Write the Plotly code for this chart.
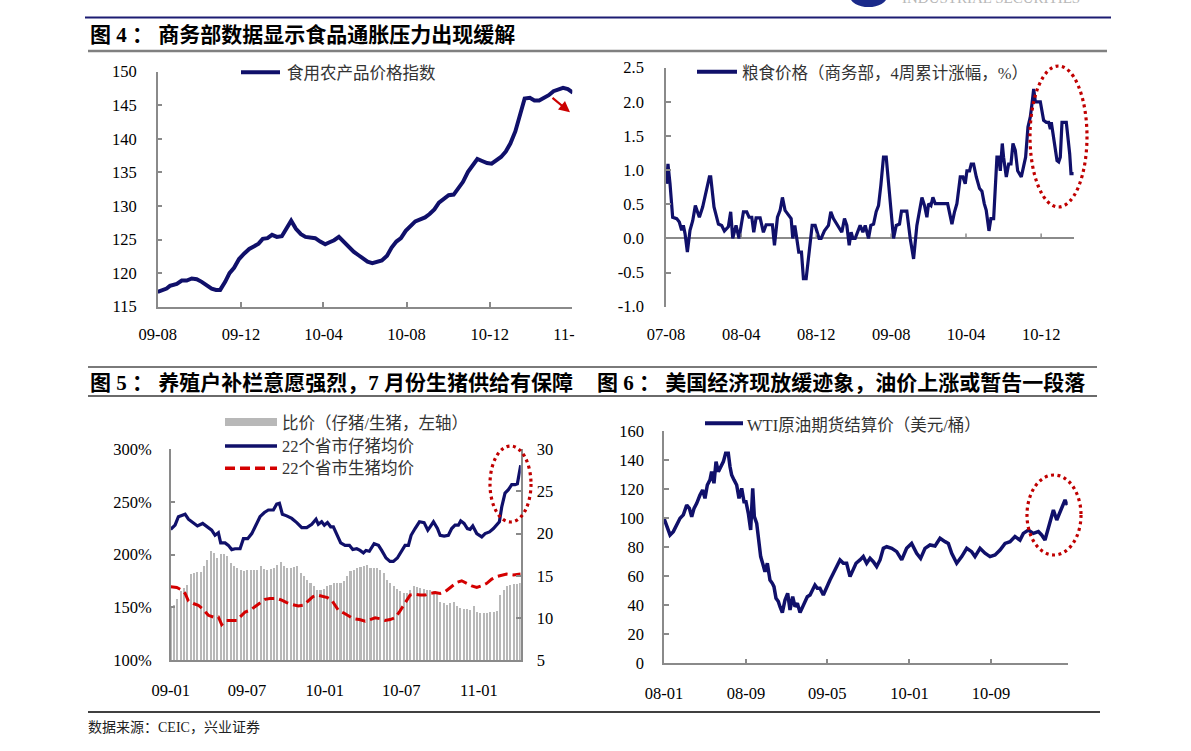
import pandas as pd
import plotly.graph_objects as go

W, H = 1191, 751

# ---------------- data ----------------
# Chart 1: food agricultural product price index (months after 2009-08)
food_months = [0.00, 0.23, 0.43, 0.59, 0.92, 1.16, 1.40, 1.64, 1.88, 2.12, 2.36, 2.60, 2.81, 3.01,
               3.25, 3.46, 3.68, 3.92, 4.16, 4.41, 4.65, 4.86, 5.06, 5.29, 5.51, 5.74, 5.98, 6.22,
               6.43, 6.66, 6.90, 7.12, 7.35, 7.59, 7.83, 8.07, 8.28, 8.50, 8.73, 8.95, 9.20, 9.44,
               9.66, 9.89, 10.11, 10.34, 10.56, 10.80, 11.05, 11.27, 11.50, 11.72, 11.95, 12.17,
               12.41, 12.65, 12.88, 13.10, 13.33, 13.55, 13.78, 14.02, 14.26, 14.49, 14.71, 14.95,
               15.18, 15.40, 15.63, 15.87, 16.09, 16.32, 16.54, 16.77, 16.99, 17.23, 17.46, 17.68,
               17.93, 18.15, 18.38, 18.60, 18.84, 19.07, 19.29, 19.53, 19.76, 20.00]
food_index = [117.2, 117.4, 117.7, 118.1, 118.4, 118.9, 118.9, 119.2, 119.1, 118.7, 118.2, 117.7, 117.5, 117.5,
              118.7, 120.0, 120.8, 122.1, 122.9, 123.6, 124.0, 124.4, 125.1, 125.2, 125.7, 125.4, 125.5, 126.7,
              127.8, 126.6, 125.8, 125.4, 125.3, 125.2, 124.7, 124.3, 124.6, 124.9, 125.4, 124.7, 123.9, 123.2,
              122.7, 122.1, 121.7, 121.5, 121.7, 121.9, 122.6, 123.8, 124.7, 125.2, 126.3, 126.9,
              127.7, 128.0, 128.3, 128.8, 129.5, 130.5, 131.0, 131.6, 131.7, 132.6, 133.6, 135.1,
              136.1, 137.0, 136.7, 136.4, 136.3, 136.8, 137.3, 138.1, 139.3, 141.1, 143.5, 146.0,
              146.1, 145.7, 145.7, 146.1, 146.5, 147.1, 147.3, 147.6, 147.4, 146.9]
food_name = "食用农产品价格指数"
food_ticks = ["2009-08-01", "2009-12-01", "2010-04-01", "2010-08-01", "2010-12-01", "2011-04-01"]
food_ticktext = ["09-08", "09-12", "10-04", "10-08", "10-12", "11-04"]
food_yticks = [115, 120, 125, 130, 135, 140, 145, 150]

# Chart 2: grain price, 4-week cumulative change % (months after 2007-08)
grain_months = [0.07, 0.21, 0.43, 0.71, 1.14, 1.42, 1.67, 1.85, 2.03, 2.28, 2.56, 2.85, 3.13, 3.56, 3.91,
                4.27, 4.63, 4.77, 5.12, 5.59, 5.94, 6.23, 6.65, 6.90, 7.12, 7.47, 7.79, 8.26, 8.61, 8.86,
                9.15, 9.36, 9.61, 10.04, 10.39, 10.68, 11.35, 11.57, 11.89, 12.17, 12.42, 12.70, 13.06,
                13.35, 13.52, 13.74, 13.95, 14.16, 14.45, 14.66, 14.95, 15.23, 15.59, 15.91, 16.33, 16.55,
                16.90, 17.33, 17.58, 17.86, 18.33, 18.75, 19.04, 19.29, 19.54, 19.75, 19.93, 20.18, 20.71,
                21.00, 21.25, 21.60, 21.85, 22.14, 22.42, 22.67, 22.92, 23.20, 23.49, 23.74, 24.02, 24.27,
                24.56, 24.91, 25.12, 25.69, 26.05, 26.41, 26.76, 27.05, 27.30, 27.58, 27.83, 28.01, 28.26,
                28.47, 28.72, 30.04, 30.50, 30.78, 31.03, 31.39, 31.67, 31.92, 32.10, 32.38, 32.56, 32.81,
                33.10, 33.45, 33.70, 33.95, 34.16, 34.45, 34.66, 34.95, 35.30, 35.48, 35.66, 35.87, 36.01,
                36.30, 36.55, 36.80, 37.01, 37.26, 37.51, 37.90, 38.15, 38.36, 38.61, 38.86, 39.04, 39.22,
                39.40, 39.93, 40.28, 40.57, 40.82, 41.00, 41.10, 41.28, 41.46, 41.71, 41.89, 42.06, 42.24,
                42.70, 43.06, 43.20, 43.49]
grain_change = [0.80, 1.09, 0.80, 0.31, 0.29, 0.24, 0.12, 0.19, 0.07, -0.20, 0.12, 0.26, 0.48, 0.31, 0.46,
                0.68, 0.90, 0.90, 0.46, 0.21, 0.19, 0.11, 0.17, 0.39, 0.00, 0.19, 0.00, 0.39, 0.39, 0.31,
                0.31, 0.09, 0.30, 0.30, 0.09, 0.20, 0.20, -0.10, 0.31, 0.41, 0.60, 0.41, 0.35,
                0.29, 0.00, 0.19, 0.00, -0.20, -0.20, -0.59, -0.59, -0.22, 0.19, 0.19, 0.00, 0.00,
                0.11, 0.19, 0.39, 0.29, 0.19, 0.09, 0.29, 0.19, -0.10, 0.09, 0.00, 0.00, 0.19,
                0.09, 0.19, 0.00, 0.19, 0.21, 0.39, 0.48, 0.78, 1.19, 1.19, 0.78, 0.39, 0.00,
                0.19, 0.21, 0.40, 0.40, 0.00, -0.30, 0.19, 0.39, 0.60, 0.48, 0.31, 0.51, 0.48,
                0.60, 0.51, 0.51, 0.21, 0.39, 0.51, 0.90, 0.90, 0.80, 0.99, 0.99, 1.09, 1.09,
                0.90, 0.73, 0.69, 0.51, 0.41, 0.11, 0.29, 0.29, 1.19, 1.19, 0.99, 1.39, 1.19,
                0.90, 1.09, 1.09, 1.39, 1.29, 0.99, 0.90, 1.09, 1.19, 1.63, 1.78, 1.97, 2.19,
                2.00, 2.00, 1.73, 1.70, 1.70, 1.60, 1.70, 1.53, 1.34, 1.14, 1.12, 1.19, 1.70,
                1.70, 1.24, 0.95, 0.95]
grain_name = "粮食价格（商务部，4周累计涨幅，%）"
grain_ticks = ["2007-08-01", "2008-04-01", "2008-12-01", "2009-08-01", "2010-04-01", "2010-12-01"]
grain_ticktext = ["07-08", "08-04", "08-12", "09-08", "10-04", "10-12"]
grain_yticks = [-1.0, -0.5, 0.0, 0.5, 1.0, 1.5, 2.0, 2.5]
grain_yticktext = ["-1.0", "-0.5", "0.0", "0.5", "1.0", "1.5", "2.0", "2.5"]

# Chart 3: piglet / hog (weekly ratio bars; prices with months after 2009-01)
ratio_values = [151, 152, 158, 165, 168, 171, 181, 182, 183, 183, 189, 195, 203, 201, 197, 200, 200, 198,
                192, 189, 187, 185, 184, 185, 185, 185, 185, 189, 186, 185, 186, 187, 190, 193, 189, 187,
                187, 188, 189, 182, 179, 176, 173, 170, 166, 166, 167, 170, 171, 173, 173, 173, 175, 179,
                184, 185, 187, 188, 189, 190, 187, 187, 187, 185, 182, 176, 173, 170, 167, 165, 163, 163,
                166, 170, 169, 168, 167, 166, 166, 165, 162, 155, 154, 152, 154, 155, 151, 149, 148, 148,
                147, 151, 145, 144, 144, 144, 145, 145, 146, 161, 166, 170, 171, 172, 172, 173]
piglet_months = [0.00, 0.34, 0.60, 0.86, 1.12, 1.38, 1.76, 2.08, 2.49, 2.85, 3.19, 3.45, 3.71, 3.89, 4.23,
                 4.49, 4.75, 5.01, 5.40, 5.66, 5.99, 6.31, 6.64, 6.95, 7.29, 7.60, 7.99, 8.25, 8.46, 8.69,
                 9.03, 9.42, 9.81, 10.20, 10.59, 10.98, 11.31, 11.49, 11.75, 11.96, 12.20, 12.45, 12.66,
                 12.92, 13.23, 13.57, 13.91, 14.17, 14.48, 14.74, 15.00, 15.20, 15.46, 15.83, 16.17, 16.42,
                 16.76, 17.07, 17.33, 17.64, 17.98, 18.24, 18.50, 18.71, 19.02, 19.36, 19.72, 20.01, 20.19,
                 20.45, 20.76, 20.97, 21.28, 21.61, 21.87, 22.13, 22.39, 22.57, 22.83, 23.09, 23.30, 23.51,
                 23.82, 24.21, 24.47, 24.81, 25.12, 25.38, 25.58, 25.77, 26.02, 26.28, 26.54, 26.80, 26.98,
                 27.24]
piglet_price = [20.5, 21.0, 22.0, 22.2, 22.3, 21.7, 21.3, 20.9, 21.2, 20.8, 20.4, 19.8, 20.1, 18.9, 18.9,
                18.6, 18.1, 18.2, 18.2, 19.4, 19.4, 20.0, 21.0, 22.0, 22.5, 22.8, 22.8, 23.5, 23.6, 22.3,
                22.1, 21.8, 21.3, 20.7, 20.7, 21.1, 21.7, 21.1, 21.4, 21.0, 21.3, 20.8, 20.8,
                20.0, 18.9, 18.6, 18.6, 18.1, 18.2, 18.0, 17.7, 18.0, 17.9, 18.8, 18.6, 18.0,
                17.1, 16.7, 16.7, 17.1, 17.9, 18.6, 18.6, 19.8, 20.6, 21.4, 21.3, 20.4, 20.8,
                21.4, 20.6, 19.8, 19.7, 19.8, 20.6, 21.0, 21.0, 21.5, 21.2, 20.6, 20.5, 20.9,
                20.0, 19.6, 20.0, 20.2, 20.6, 21.1, 21.4, 23.2, 24.8, 25.2, 25.8, 25.8, 25.9,
                28.1]
hog_months = [0.00, 0.47, 0.86, 1.12, 1.38, 1.76, 2.15, 2.54, 2.93, 3.32, 3.71, 3.97, 4.31, 4.75, 5.14,
              5.40, 5.79, 6.18, 6.56, 6.95, 7.34, 7.73, 8.25, 8.64, 9.03, 9.42, 9.94, 10.33, 10.72, 11.05,
              11.42, 11.75, 12.20, 12.53, 12.79, 13.05, 13.44, 13.83, 14.22, 14.69, 15.13, 15.52, 15.91,
              16.29, 16.68, 17.07, 17.46, 17.80, 18.11, 18.37, 18.63, 19.02, 19.41, 19.80, 20.19, 20.58,
              20.97, 21.35, 21.61, 21.95, 22.26, 22.65, 23.04, 23.43, 23.82, 24.21, 24.60, 24.99, 25.38,
              25.77, 26.15, 26.67, 27.24]
hog_price = [13.7, 13.6, 13.3, 12.9, 12.0, 11.7, 11.5, 11.0, 10.3, 10.1, 10.1, 9.2, 9.7, 9.7, 9.7,
             10.1, 10.7, 10.9, 11.3, 11.7, 12.2, 12.3, 12.3, 12.1, 11.8, 11.6, 11.4, 11.5, 12.0, 12.5,
             12.7, 12.6, 12.4, 12.1, 11.5, 10.9, 10.6, 10.2, 9.9, 9.8, 9.6, 9.8, 10.0,
             9.9, 9.7, 9.8, 10.0, 10.7, 11.5, 12.2, 12.7, 12.8, 12.7, 12.7, 12.9, 13.0,
             12.9, 13.1, 13.4, 13.8, 14.2, 14.4, 14.1, 13.8, 13.6, 13.8, 14.1, 14.6, 14.9,
             15.1, 15.2, 15.1, 15.2]
ratio_name = "比价（仔猪/生猪，左轴）"
piglet_name = "22个省市仔猪均价"
hog_name = "22个省市生猪均价"
pig_ticks = ["2009-01-01", "2009-07-01", "2010-01-01", "2010-07-01", "2011-01-01"]
pig_ticktext = ["09-01", "09-07", "10-01", "10-07", "11-01"]
pig_lticks = [100, 150, 200, 250, 300]
pig_lticktext = ["100%", "150%", "200%", "250%", "300%"]
pig_rticks = [5, 10, 15, 20, 25, 30]

# Chart 4: WTI crude futures settlement (months after 2008-01)
wti_months = [0.00, 0.26, 0.59, 0.91, 1.24, 1.57, 1.89, 2.22, 2.48, 2.71, 2.94, 3.20, 3.52, 3.78, 4.01,
              4.24, 4.50, 4.66, 4.89, 5.09, 5.32, 5.54, 5.81, 6.03, 6.29, 6.46, 6.62, 6.85, 7.11, 7.34,
              7.60, 7.83, 8.02, 8.25, 8.48, 8.68, 8.84, 9.07, 9.26, 9.46, 9.65, 9.88, 10.11, 10.37, 10.60,
              10.76, 10.96, 11.19, 11.35, 11.58, 11.84, 12.10, 12.33, 12.59, 12.82, 13.05, 13.31, 13.57,
              13.80, 14.02, 14.29, 14.55, 14.77, 15.00, 15.26, 15.59, 15.92, 16.24, 16.57, 16.89, 17.22,
              17.55, 17.87, 18.20, 18.46, 18.79, 19.18, 19.50, 19.83, 20.16, 20.48, 20.81, 21.14, 21.46,
              21.79, 22.28, 22.77, 23.26, 23.74, 24.23, 24.72, 25.11, 25.54, 26.03, 26.52, 27.01, 27.50,
              27.82, 28.15, 28.64, 29.13, 29.62, 30.10, 30.43, 30.92, 31.41, 31.90, 32.39, 32.88, 33.37,
              33.86, 34.34, 34.83, 35.16, 35.65, 36.14, 36.63, 36.95, 37.28, 37.77, 38.10, 38.43, 38.75,
              39.08, 39.24, 39.47]
wti_price = [99.9, 94.1, 88.4, 90.7, 95.3, 99.9, 102.2, 109.0, 106.7, 101.0, 106.7, 110.2, 115.9, 119.4, 113.6,
             122.8, 126.3, 132.0, 124.0, 138.9, 132.0, 135.4, 138.9, 144.6, 144.6, 135.4, 129.7, 126.3, 122.8, 113.6,
             120.5, 111.3, 111.3, 103.3, 91.8, 120.5, 101.0, 96.4, 82.6, 73.5, 68.9, 63.1, 68.9, 57.4, 55.1,
             52.8, 44.8, 42.5, 39.0, 34.9, 43.6, 48.2, 36.7, 45.9, 39.0, 41.3, 34.9, 39.0,
             42.5, 45.9, 47.1, 50.5, 53.9, 51.7, 51.7, 47.1, 52.8, 57.4, 62.0, 66.6, 71.2,
             68.9, 68.9, 59.7, 64.3, 68.9, 71.2, 73.5, 68.9, 72.3, 70.0, 66.6, 71.2, 79.2,
             80.3, 79.2, 76.9, 71.2, 79.2, 82.6, 75.8, 72.3, 79.2, 81.5, 80.8, 86.1, 83.8,
             82.6, 75.8, 68.9, 73.5, 79.2, 76.9, 73.5, 79.2, 75.8, 73.5, 74.6, 78.0, 82.6,
             83.8, 87.3, 84.9, 89.5, 91.8, 89.5, 90.7, 88.4, 84.9, 98.7, 105.6, 98.7, 104.4,
             109.0, 112.5, 109.0]
wti_name = "WTI原油期货结算价（美元/桶）"
wti_ticks = ["2008-01-01", "2008-09-01", "2009-05-01", "2010-01-01", "2010-09-01"]
wti_ticktext = ["08-01", "08-09", "09-05", "10-01", "10-09"]
wti_yticks = [0, 20, 40, 60, 80, 100, 120, 140, 160]

titles = ["图 4 ： 商务部数据显示食品通胀压力出现缓解",
          "图 5 ： 养殖户补栏意愿强烈，7 月份生猪供给有保障",
          "图 6 ： 美国经济现放缓迹象，油价上涨或暂告一段落"]
source_text = "数据来源：CEIC，兴业证券"
header_text = "INDUSTRIAL SECURITIES"

# ---------------- helpers ----------------
NAVY = "#10106a"
GRAY = "#8a8a8a"
RED = "#d40000"
DOTRED = "#c00000"
TICKFONT = dict(family="Liberation Serif", size=16.5, color="black")
LEGFONT = dict(family="Liberation Serif, Noto Sans CJK SC", size=16.5, color="#333333")


def mdates(base, months):
    b = pd.Timestamp(base)
    return [b + pd.Timedelta(days=m * 30.4375) for m in months]


def px(x):
    return x / W


def py(y):
    return 1 - y / H


fig = go.Figure()

# Chart 1
fig.add_trace(go.Scatter(x=mdates("2009-08-01", food_months), y=food_index, mode="lines", name=food_name,
                         line=dict(color=NAVY, width=4), xaxis="x", yaxis="y", showlegend=False))
# Chart 2
fig.add_trace(go.Scatter(x=mdates("2007-08-01", grain_months), y=grain_change, mode="lines", name=grain_name,
                         line=dict(color=NAVY, width=3.2), xaxis="x2", yaxis="y2", showlegend=False))
# Chart 3
pig_end = mdates("2009-01-01", [27.2])[0]
bar_x = pd.date_range(pd.Timestamp("2009-01-01"), pig_end, periods=len(ratio_values))
fig.add_trace(go.Bar(x=bar_x, y=ratio_values, name=ratio_name, marker=dict(color="#b8b8b8", line=dict(width=0)),
                     width=3.8 * 86400000, xaxis="x3", yaxis="y3", showlegend=False))
fig.add_trace(go.Scatter(x=mdates("2009-01-01", piglet_months), y=piglet_price, mode="lines", name=piglet_name,
                         line=dict(color=NAVY, width=3.2), xaxis="x3", yaxis="y5", showlegend=False))
fig.add_trace(go.Scatter(x=mdates("2009-01-01", hog_months), y=hog_price, mode="lines", name=hog_name,
                         line=dict(color=RED, width=3, dash="10px,5px"), xaxis="x3", yaxis="y5", showlegend=False))
# Chart 4
fig.add_trace(go.Scatter(x=mdates("2008-01-01", wti_months), y=wti_price, mode="lines", name=wti_name,
                         line=dict(color=NAVY, width=3.5), xaxis="x4", yaxis="y4", showlegend=False))

base_axis = dict(showline=True, linecolor=GRAY, linewidth=1.5, showgrid=False, zeroline=False,
                 ticks="inside", ticklen=5, tickcolor=GRAY, tickwidth=1.5, tickfont=TICKFONT,
                 automargin=False)

layout = dict(
    width=W, height=H, margin=dict(l=0, r=0, t=0, b=0, pad=0, autoexpand=False),
    paper_bgcolor="white", plot_bgcolor="white", showlegend=False, bargap=0,
    xaxis=dict(base_axis, type="date", domain=[px(157.7), px(572.3)], anchor="y",
               range=["2009-08-01", "2011-04-01"], tickvals=food_ticks, ticktext=food_ticktext,
               ticklabelstandoff=12),
    yaxis=dict(base_axis, domain=[py(306.7), py(71.7)], anchor="x", range=[115, 150],
               tickvals=food_yticks, ticklabelstandoff=16),
    xaxis2=dict(base_axis, type="date", domain=[px(666), px(1073.8)], anchor="y2", showline=False, ticks="",
                range=["2007-08-01", mdates("2007-08-01", [43.5])[0]], tickvals=grain_ticks,
                ticktext=grain_ticktext, ticklabelstandoff=16),
    yaxis2=dict(base_axis, domain=[py(306.7), py(67.7)], anchor="x2", range=[-1.0, 2.5],
                tickvals=grain_yticks, ticktext=grain_yticktext, ticklabelstandoff=17,
                zeroline=True, zerolinecolor=GRAY, zerolinewidth=1.5),
    xaxis3=dict(base_axis, type="date", domain=[px(170.7), px(520.7)], anchor="y3", ticks="",
                range=["2009-01-01", mdates("2009-01-01", [27.24])[0]], tickvals=pig_ticks,
                ticktext=pig_ticktext, ticklabelstandoff=14),
    yaxis3=dict(base_axis, domain=[py(660), py(449.3)], anchor="x3", range=[100, 300],
                tickvals=pig_lticks, ticktext=pig_lticktext, ticklabelstandoff=14),
    yaxis5=dict(base_axis, overlaying="y3", anchor="x3", side="right", range=[5, 30],
                tickvals=pig_rticks, ticklabelstandoff=11),
    xaxis4=dict(base_axis, type="date", domain=[px(664), px(1067.7)], anchor="y4",
                range=["2008-01-01", mdates("2008-01-01", [39.5])[0]], tickvals=wti_ticks,
                ticktext=wti_ticktext, ticklabelstandoff=14),
    yaxis4=dict(base_axis, domain=[py(663.3), py(431)], anchor="x4", range=[0, 160],
                tickvals=wti_yticks, ticklabelstandoff=15),
)
fig.update_layout(**layout)

shapes = []


def hline(y, x0, x1, color, width):
    shapes.append(dict(type="line", xref="paper", yref="paper", x0=px(x0), x1=px(x1), y0=py(y), y1=py(y),
                       line=dict(color=color, width=width)))


# page rules
hline(17.5, 85, 1111, "#1c1c72", 2)
hline(51, 88, 1107, "#808080", 2.5)
hline(367, 88, 1097, "#7a7a7a", 2)
hline(396, 88, 1097, "#6a6a6a", 2)
hline(712, 88, 1100, "#000000", 1.5)

# chart 2 tick marks on the zero line
for t in grain_ticks[1:]:
    shapes.append(dict(type="line", xref="x2", yref="y2", x0=t, x1=t, ysizemode="pixel", yanchor=0,
                       y0=0, y1=5, line=dict(color=GRAY, width=1.5)))

# clip the last tick label of chart 1 ("11-04" -> "11-")
shapes.append(dict(type="rect", xref="paper", yref="paper", x0=px(574.5), x1=px(600), y0=py(346), y1=py(321),
                   fillcolor="white", line=dict(width=0), layer="above"))

# highlight ellipses
for (x0, x1, y0, y1) in [(1030, 1087, 66, 207), (490, 531, 446, 522), (1027, 1081, 475, 555)]:
    shapes.append(dict(type="circle", xref="paper", yref="paper", x0=px(x0), x1=px(x1), y0=py(y1), y1=py(y0),
                       line=dict(color=DOTRED, width=3.2, dash="3px,3.5px")))


# legend swatches
def swatch(x0, x1, y, color, width, dash=None):
    ln = dict(color=color, width=width)
    if dash:
        ln["dash"] = dash
    shapes.append(dict(type="line", xref="paper", yref="paper", x0=px(x0), x1=px(x1), y0=py(y), y1=py(y),
                       line=ln))


swatch(241, 280, 72.3, NAVY, 4)
swatch(697, 737, 71.7, NAVY, 4)
shapes.append(dict(type="rect", xref="paper", yref="paper", x0=px(225), x1=px(277), y0=py(426), y1=py(418),
                   fillcolor="#b8b8b8", line=dict(width=0)))
swatch(225, 277, 446, NAVY, 3.5)
swatch(225, 277, 468.3, RED, 3.5, "10px,5px")
swatch(705, 743, 423.3, NAVY, 4)

# header logo fragment
shapes.append(dict(type="circle", xref="paper", yref="paper", x0=px(850), x1=px(887), y0=py(7), y1=py(-14),
                   fillcolor="#1a2a8a", line=dict(width=0)))

fig.update_layout(shapes=shapes)

annotations = []


def text(x, y, s, font, anchor="left"):
    annotations.append(dict(x=px(x), y=py(y), xref="paper", yref="paper", text=s, showarrow=False,
                            xanchor=anchor, yanchor="middle", font=font))


TITLEFONT = dict(family="Liberation Serif, Noto Sans CJK SC", size=21, color="black")
text(88, 35, "<b>" + titles[0] + "</b>", TITLEFONT)
text(88, 383, "<b>" + titles[1] + "</b>", TITLEFONT)
text(595, 383, "<b>" + titles[2] + "</b>", TITLEFONT)

text(284.5, 73.5, food_name, LEGFONT)
text(739.5, 74, grain_name, LEGFONT)
text(280, 423, ratio_name, LEGFONT)
text(280, 446.5, piglet_name, LEGFONT)
text(280, 468.5, hog_name, LEGFONT)
text(744.5, 425, wti_name, LEGFONT)

text(86, 727, source_text, dict(family="Liberation Serif, Noto Sans CJK SC", size=14, color="#222222"))

annotations.append(dict(x=px(900), y=py(8), xref="paper", yref="paper", text=header_text,
                        showarrow=False, xanchor="left", yanchor="bottom",
                        font=dict(family="Liberation Serif", size=15, color="#b8b8b8")))

# red arrow in chart 1
annotations.append(dict(x=px(570), y=py(112.3), xref="paper", yref="paper", text="", showarrow=True,
                        ax=-19, ay=-15.6, arrowhead=2, arrowsize=1, arrowwidth=2.2, arrowcolor="#cc0000",
                        standoff=0))

fig.update_layout(annotations=annotations)

fig.write_html("out.html")
